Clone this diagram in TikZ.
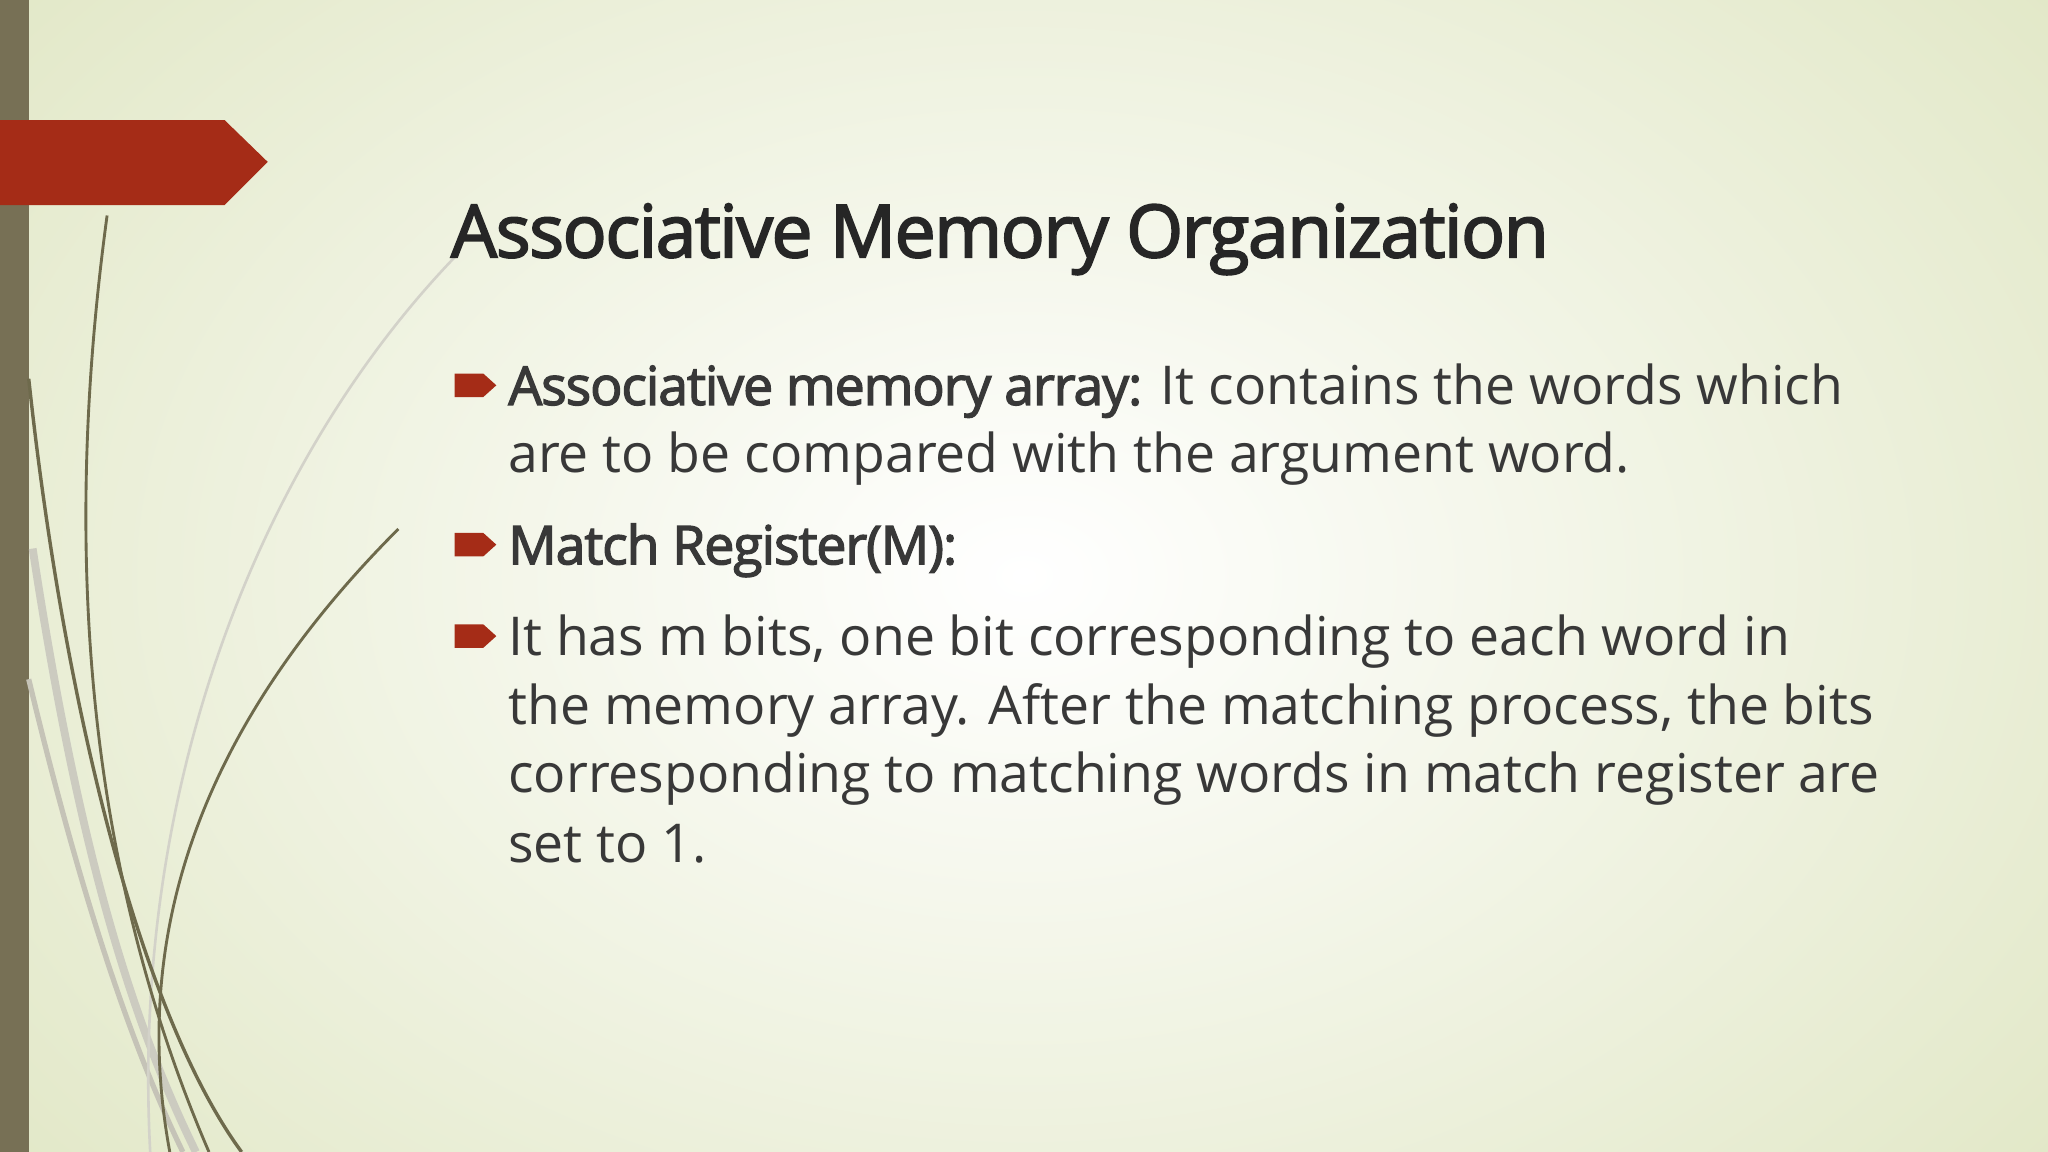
\documentclass[tikz,border=0pt]{standalone}
\usepackage{fontspec}
\setmainfont{Open Sans}
\newfontfamily\semib[FakeBold=2.5,LetterSpace=-2]{Open Sans}
\begin{document}
\begin{tikzpicture}[x=1pt,y=-1pt,
  body/.style={anchor=base west,inner sep=0pt,font=\fontsize{41}{41}\selectfont,text=black!78}]
\definecolor{bgedge}{HTML}{DDE4BE}
\definecolor{barc}{HTML}{777055}
\definecolor{redc}{HTML}{A52C17}
\definecolor{linec}{HTML}{6E6A4C}
\useasboundingbox (0,0) rectangle (1568,882);
\shade[inner color=white,outer color=bgedge] (-400,-400) rectangle (1968,1282);
\clip (0,0) rectangle (1568,882);
\fill[barc] (0,0) rectangle (22,882);
% curves
\draw[linec!35,line width=6pt] (25,420) .. controls (60,650) and (100,780) .. (150,882);
\draw[linec!40,line width=4pt] (22,520) .. controls (70,720) and (110,820) .. (140,882);
\draw[linec!30,line width=2pt] (350,195) .. controls (200,350) and (100,600) .. (115,882);
\draw[linec,line width=2.2pt] (82,165) .. controls (50,400) and (60,650) .. (160,882);
\draw[linec,line width=2.6pt] (22,290) .. controls (50,550) and (110,780) .. (185,882);
\draw[linec,line width=2.2pt] (305,405) .. controls (150,560) and (100,720) .. (130,882);
\fill[redc] (0,92) -- (172,92) -- (205,124) -- (172,157) -- (0,157) -- cycle;
\node[anchor=base west,inner sep=0pt,font=\semib\fontsize{56}{56}\selectfont,text=black!85] (title) at (345,197) {Associative Memory Organization};
\foreach \y/\n in {295/b1,417/b2,487/b3}{
  \fill[redc] (348,\y-9) -- (370,\y-9) -- (380,\y) -- (370,\y+9) -- (348,\y+9) -- cycle;
}
\node[body] (l1) at (389,310) {{\semib Associative memory array:} It contains the words which};
\node[body] (l2) at (389,362) {are to be compared with the argument word.};
\node[body] (l3) at (389,432) {{\semib Match Register(M):}};
\node[body] (l4) at (389,502) {It has m bits, one bit corresponding to each word in};
\node[body] (l5) at (389,555) {the memory array. After the matching process, the bits};
\node[body] (l6) at (389,607) {corresponding to matching words in match register are};
\node[body] (l7) at (389,660) {set to 1.};
\end{tikzpicture}
\end{document}
